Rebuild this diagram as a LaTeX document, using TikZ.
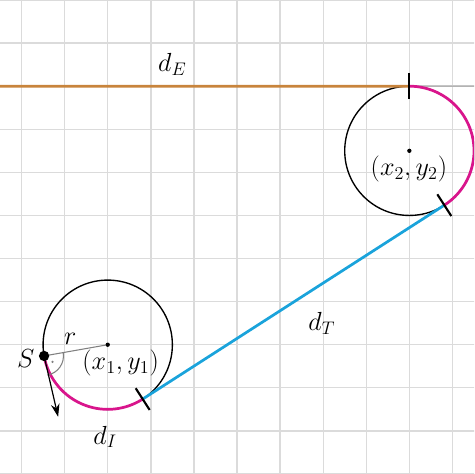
\documentclass[tikz,border=0pt]{standalone}
\usetikzlibrary{calc,arrows.meta}
\definecolor{orangeE}{HTML}{C8843C}
\definecolor{blueT}{HTML}{1AA3DB}
\definecolor{magI}{HTML}{D9158C}
\tikzset{
  gridline/.style={gray!28, line width=0.9pt},
  circline/.style={black, line width=0.9pt},
  eline/.style={orangeE, line width=1.8pt},
  tline/.style={blueT, line width=1.8pt},
  iline/.style={magI, line width=1.8pt},
  thinline/.style={gray!75, line width=0.6pt},
  tickmark/.style={black, line width=1.4pt},
  radline/.style={gray, line width=0.7pt},
  lbl/.style={font=\LARGE, inner sep=1pt},
}
\begin{document}
\begin{tikzpicture}
\useasboundingbox (0,0) rectangle (11,11);
\clip (0,0) rectangle (11,11);
\draw[gridline, xshift=0.5cm] (-1,-1) grid (11,12);

\coordinate (c1) at (2.5,3);
\coordinate (c2) at (9.5,7.5);
\coordinate (S) at ($(c1)+(190:1.5)$);
\coordinate (T1) at ($(c1)+(-57.26:1.5)$);
\coordinate (T2) at ($(c2)+(-57.26:1.5)$);
\coordinate (top) at ($(c2)+(90:1.5)$);
\coordinate (L) at (0,9);
\coordinate (R) at (11,9);
\coordinate (tip) at ($(S)+(-77:1.45)$);
\coordinate (k1a) at ($(c1)+(-57.26:1.2)$);
\coordinate (k1b) at ($(c1)+(-57.26:1.8)$);
\coordinate (k2a) at ($(c2)+(-57.26:1.2)$);
\coordinate (k2b) at ($(c2)+(-57.26:1.8)$);
\coordinate (k3a) at ($(c2)+(90:1.2)$);
\coordinate (k3b) at ($(c2)+(90:1.8)$);
\coordinate (ra) at ($(S)+(10:0.45)$);
\coordinate (rd) at ($(S)+(-35:0.24)$);

\draw[circline] (c1) circle (1.5);
\draw[circline] (c2) circle (1.5);

\draw[eline] (L) -- (top);
\draw[thinline] (top) -- (R);
\draw[tline] (T1) -- (T2);
\draw[iline] (S) arc[start angle=190, end angle=302.74, radius=1.5];
\draw[iline] (T2) arc[start angle=-57.26, end angle=90, radius=1.5];

\draw[tickmark] (k1a) -- (k1b);
\draw[tickmark] (k2a) -- (k2b);
\draw[tickmark] (k3a) -- (k3b);

\draw[radline] (S) -- (c1);
\draw[radline] (ra) arc[start angle=10, end angle=-80, radius=0.45];
\fill[gray] (rd) circle (0.03);
\draw[black, line width=0.8pt, -{Stealth[length=3mm,width=2mm]}] (S) -- (tip);

\fill (S) circle (0.12);
\fill (c1) circle (0.05);
\fill (c2) circle (0.05);

\node[lbl] (dE) at (4.0,9.5) {$d_E$};
\node[lbl] (dT) at (7.47,3.5) {$d_T$};
\node[lbl] (dI) at (2.44,0.86) {$d_I$};
\node[lbl] (Sl) at (0.6,2.68) {$S$};
\node[lbl] (rl) at (1.63,3.13) {$r$};
\node[lbl] (p1) at (2.8,2.58) {$(x_1,y_1)$};
\node[lbl] (p2) at (9.49,7.08) {$(x_2,y_2)$};
\end{tikzpicture}
\end{document}
